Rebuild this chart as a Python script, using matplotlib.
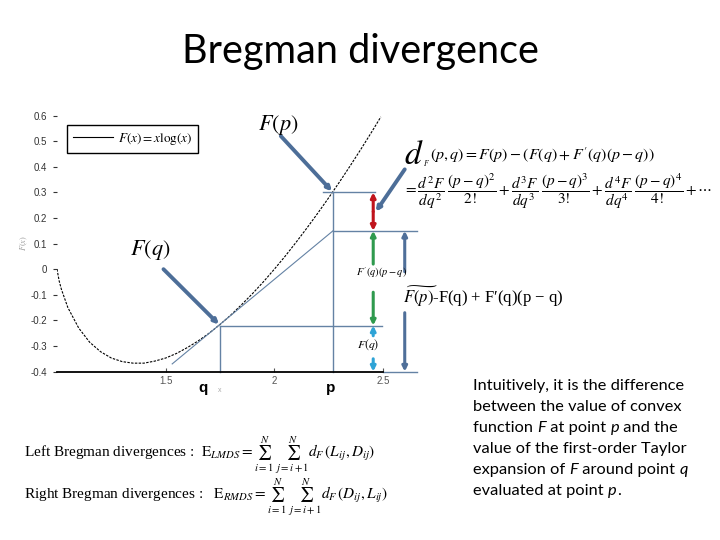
#!/usr/bin/env python3
"""Bregman divergence slide: F(x) curve, tangent at q, and the gap at p."""
import matplotlib
matplotlib.use("Agg")
import matplotlib.pyplot as plt

plt.rcParams["mathtext.fontset"] = "stix"
plt.rcParams["font.family"] = ["Liberation Sans", "DejaVu Sans"]

# curve F(x) (x axis shifted by 1)
x_curve = [1.00, 1.01, 1.02, 1.05, 1.10, 1.15, 1.20, 1.25, 1.30, 1.35, 1.40,
           1.45, 1.50, 1.55, 1.60, 1.65, 1.70, 1.75, 1.80, 1.85, 1.90, 1.95,
           2.00, 2.05, 2.10, 2.15, 2.20, 2.25, 2.30, 2.35, 2.40, 2.45, 2.49]
F_curve = [0.00, -0.046, -0.078, -0.150, -0.230, -0.285, -0.322, -0.347, -0.361,
           -0.367, -0.367, -0.359, -0.347, -0.329, -0.306, -0.280, -0.250,
           -0.216, -0.179, -0.138, -0.095, -0.049, 0.00, 0.051, 0.105, 0.161,
           0.219, 0.279, 0.341, 0.405, 0.471, 0.539, 0.595]

q, Fq = 1.75, -0.22          # tangent point
p, Fp = 2.27, 0.30           # evaluation point
tan_p = 0.15                 # first-order Taylor value at p
x_tan = [1.53, p]
y_tan = [-0.37, tan_p]

xticks = [1.5, 2.0, 2.5]
xticklabels = ["1.5", "2", "2.5"]
yticks = [0.6, 0.5, 0.4, 0.3, 0.2, 0.1, 0.0, -0.1, -0.2, -0.3, -0.4]
yticklabels = ["0.6", "0.5", "0.4", "0.3", "0.2", "0.1", "0", "-0.1", "-0.2", "-0.3", "-0.4"]

W, H = 720, 540
LINE = "#6482a4"; POINT = "#4d6e98"; RED = "#c0141c"; GREEN = "#2f9a4e"
CYAN = "#2ea3d6"; STEEL = "#4f6f99"


def P(x, y):
    return x / W, 1 - y / H


def darrow(ax, x, y0, y1, col):
    ax.annotate("", xy=(x, y1), xytext=(x, y0), annotation_clip=False,
                arrowprops=dict(arrowstyle="-|>", color=col, lw=2.2,
                                mutation_scale=7, shrinkA=0, shrinkB=0))


def pieces(fig, x, y, parts, size):
    r = fig.canvas.get_renderer()
    bar = fig.text(0, 0, "|", fontsize=size, family="Lato")
    wbar = bar.get_window_extent(r).width
    bar.remove()
    for s, it in parts:
        st = "italic" if it else "normal"
        fig.text(*P(x, y), s, fontsize=size, family="Lato", style=st, va="center")
        m = fig.text(0, 0, s + "|", fontsize=size, family="Lato", style=st)
        x += m.get_window_extent(r).width - wbar
        m.remove()


fig = plt.figure(figsize=(7.2, 5.4), dpi=100)
fig.patch.set_facecolor("white")
x0, x1, ytop, ybot = 57, 383, 115.6, 371.6
ax = fig.add_axes([x0 / W, 1 - ybot / H, (x1 - x0) / W, (ybot - ytop) / H])
ax.set_xlim(1.0, 2.5); ax.set_ylim(-0.4, 0.6)
ax.patch.set_alpha(0)
for s in ("top", "right", "left"):
    ax.spines[s].set_visible(False)
ax.spines["bottom"].set_linewidth(1.3)
ax.set_xticks(xticks); ax.set_xticklabels(xticklabels)
ax.set_yticks(yticks); ax.set_yticklabels(yticklabels)
ax.tick_params(axis="y", length=3, pad=4, labelsize=7, colors="#333333")
ax.tick_params(axis="x", direction="in", length=3, pad=3, labelsize=7, colors="#555555")

ax.plot(x_curve, F_curve, color="black", lw=0.8, ls=(0, (2.2, 1.2)), label=r"$F(x) = x\log(x)$")
ax.plot(x_tan, y_tan, color=LINE, lw=0.8)

# guide lines
kw = dict(color=LINE, lw=1.0, clip_on=False)
ax.plot([2.224, 2.463], [Fp, Fp], **kw)
ax.plot([p, 2.657], [tan_p, tan_p], **kw)
ax.plot([q, 2.496], [Fq, Fq], **kw)
ax.plot([2.5, 2.657], [-0.4, -0.4], **kw)
ax.plot([q, q], [Fq, -0.4], **kw)
ax.plot([p, p], [Fp, -0.4], **kw)

# measuring arrows
xa, xb = 2.455, 2.60
darrow(ax, xa, (Fp + tan_p) / 2, Fp, RED)
darrow(ax, xa, (Fp + tan_p) / 2, tan_p, RED)
darrow(ax, xa, 0.02, tan_p, GREEN)
darrow(ax, xa, -0.09, Fq, GREEN)
darrow(ax, xa, -0.26, Fq, CYAN)
darrow(ax, xa, -0.35, -0.4, CYAN)
darrow(ax, xb, -0.01, tan_p, STEEL)
darrow(ax, xb, -0.17, -0.4, STEEL)

# pointers from labels
pk = dict(arrowstyle="-|>", color=POINT, lw=2.8, mutation_scale=6, shrinkA=0, shrinkB=1)
ax.annotate("", xy=(p, Fp), xytext=(2.03, 0.52), arrowprops=pk, annotation_clip=False)
ax.annotate("", xy=(q, Fq), xytext=(1.49, 0.0), arrowprops=pk, annotation_clip=False)
ax.annotate("", xy=(2.463, 0.22), xytext=(2.60, 0.39), arrowprops=pk, annotation_clip=False)

leg = ax.legend(loc="upper left", bbox_to_anchor=P(67, 125), bbox_transform=fig.transFigure,
                borderaxespad=0, fancybox=False, edgecolor="black", fontsize=9.5,
                handlelength=3.0, handletextpad=0.4, borderpad=0.45, framealpha=1)
leg.get_frame().set_linewidth(1.0)
leg.get_lines()[0].set_linestyle("-")

# text on the plot
fig.text(*P(360, 52), "Bregman divergence", fontsize=28.5, family="Lato", ha="center", va="center")
fig.text(*P(278, 125), r"$F(p)$", fontsize=16, ha="center", va="center")
fig.text(*P(150, 250), r"$F(q)$", fontsize=16, ha="center", va="center")
fig.text(*P(24, 243), r"$F(x)$", fontsize=6, rotation=90, color="#999999", ha="center", va="center")
fig.text(*P(203, 388), "q", fontsize=11, fontweight="bold", ha="center", va="center")
fig.text(*P(220, 391), "x", fontsize=5, color="#aaaaaa", ha="center", va="center")
fig.text(*P(331, 388), "p", fontsize=11, fontweight="bold", ha="center", va="center")
fig.text(*P(382, 273), r"$F'(q)(p-q)$", fontsize=7.5, ha="center", va="center")
fig.text(*P(368, 345), r"$F(q)$", fontsize=8.5, ha="center", va="center")
fig.text(*P(403, 297), r"$\widetilde{F(p)}$-F(q) + F′(q)(p − q)", fontsize=12,
         family="Liberation Serif", ha="left", va="center")

# divergence definition
fig.text(*P(404, 156), r"$d$", fontsize=24, ha="left", va="center")
fig.text(*P(423, 163), r"$F$", fontsize=5.5, ha="left", va="center")
fig.text(*P(430, 155), r"$(p,q) = F(p) - (F(q) + F^{\prime}(q)(p-q))$", fontsize=11.5,
         ha="left", va="center")
fig.text(*P(403, 191), r"$= \dfrac{d^2F}{dq^2}\;\dfrac{(p-q)^2}{2!} + \dfrac{d^3F}{dq^3}\;"
         r"\dfrac{(p-q)^3}{3!} + \dfrac{d^4F}{dq^4}\;\dfrac{(p-q)^4}{4!} + \cdots$",
         fontsize=11, ha="left", va="center")

# left / right divergences
fig.text(*P(24, 455), r"Left Bregman divergences :  $\mathrm{E}_{LMDS} = \sum_{i=1}^{N}\;"
         r"\sum_{j=i+1}^{N} d_F\,(L_{ij}, D_{ij})$", fontsize=11, family="Liberation Serif",
         ha="left", va="center")
fig.text(*P(24, 497), r"Right Bregman divergences :   $\mathrm{E}_{RMDS} = \sum_{i=1}^{N}\;"
         r"\sum_{j=i+1}^{N} d_F\,(D_{ij}, L_{ij})$", fontsize=11, family="Liberation Serif",
         ha="left", va="center")

# explanation paragraph
lines = [
    [("Intuitively, it is the difference", 0)],
    [("between the value of convex", 0)],
    [("function ", 0), ("F", 1), (" at point ", 0), ("p", 1), (" and the", 0)],
    [("value of the first-order Taylor", 0)],
    [("expansion of ", 0), ("F", 1), (" around point ", 0), ("q", 1)],
    [("evaluated at point ", 0), ("p", 1), (".", 0)],
]
for k, parts in enumerate(lines):
    pieces(fig, 473, 386 + 21 * k, parts, 11.8)

fig.savefig("out.png", dpi=100, facecolor="white")
